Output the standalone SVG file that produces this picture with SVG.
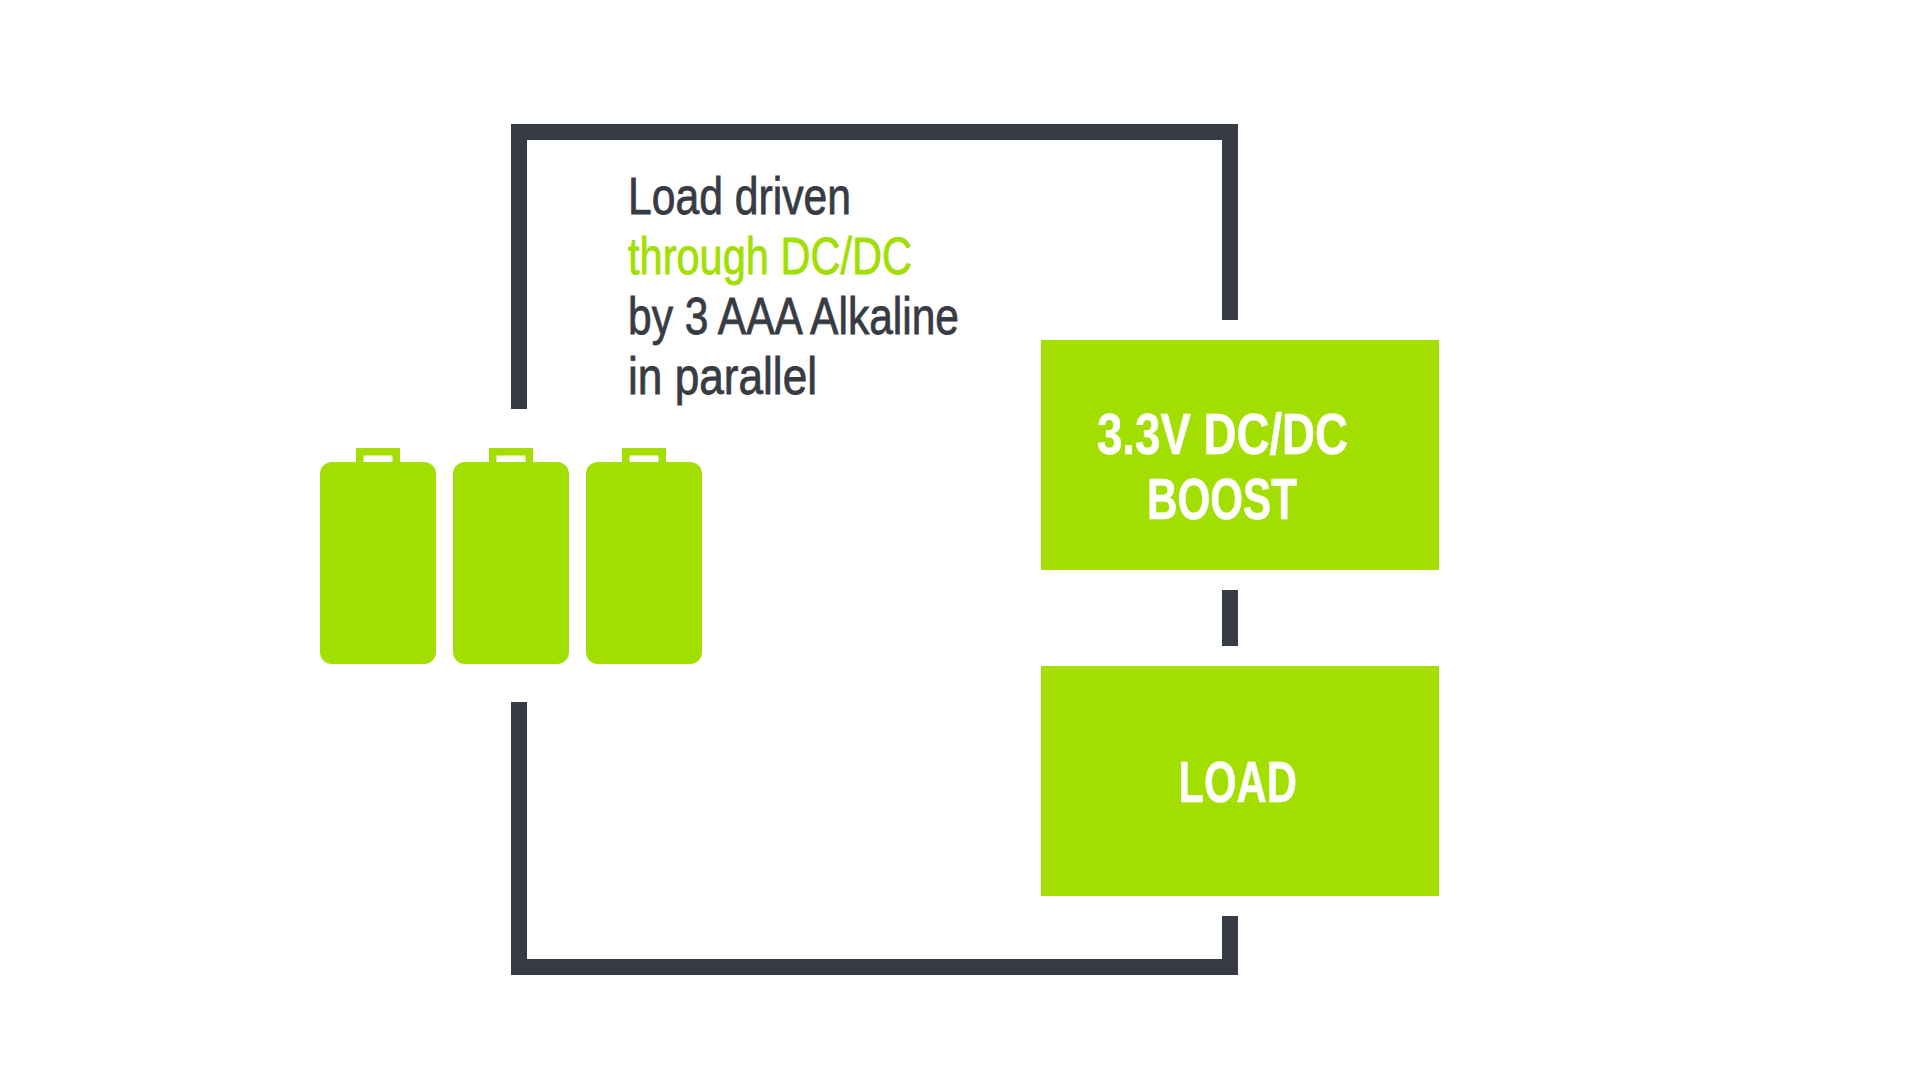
<svg xmlns="http://www.w3.org/2000/svg" width="1920" height="1080" viewBox="0 0 1920 1080">
<style>
.wire{fill:none;stroke:#373b43;stroke-width:16}
.g{fill:#a2df00}
.cap{fill:none;stroke:#a2df00;stroke-width:7.5}
.t{font-family:"Liberation Sans",Arial,sans-serif;font-size:52px;fill:#373b43;stroke:#373b43;stroke-width:.8px}
.tg{fill:#a2df00;stroke:#a2df00}
.b{font-family:"Liberation Sans",Arial,sans-serif;font-size:58px;font-weight:bold;fill:#fff;stroke:#fff;stroke-width:.6px}
</style>
<rect width="1920" height="1080" fill="#fff"/>
<g id="connectors">
<path class="wire" d="M519 409V132H1230V320"/>
<path class="wire" d="M1230 590V646"/>
<path class="wire" d="M519 702V967H1230V916"/>
</g>
<g id="battery1"><rect class="g" x="320" y="462" width="116" height="202" rx="12"/><path class="cap" d="M359.750 462V451.750H396.250V462"/></g>
<g id="battery2"><rect class="g" x="453" y="462" width="116" height="202" rx="12"/><path class="cap" d="M492.750 462V451.750H529.250V462"/></g>
<g id="battery3"><rect class="g" x="586" y="462" width="116" height="202" rx="12"/><path class="cap" d="M625.750 462V451.750H662.250V462"/></g>
<g id="caption">
<text class="t" x="628" y="214" textLength="223" lengthAdjust="spacingAndGlyphs">Load driven</text>
<text class="t tg" x="628" y="274" textLength="284" lengthAdjust="spacingAndGlyphs">through DC/DC</text>
<text class="t" x="628" y="334" textLength="331" lengthAdjust="spacingAndGlyphs">by 3 AAA Alkaline</text>
<text class="t" x="628" y="394" textLength="189" lengthAdjust="spacingAndGlyphs">in parallel</text>
</g>
<g id="boost">
<rect class="g" x="1041" y="340" width="398" height="230"/>
<text class="b" x="1097" y="453.500" textLength="251" lengthAdjust="spacingAndGlyphs">3.3V DC/DC</text>
<text class="b" x="1147" y="519" textLength="150" lengthAdjust="spacingAndGlyphs">BOOST</text>
</g>
<g id="load">
<rect class="g" x="1041" y="666" width="398" height="230"/>
<text class="b" x="1178.500" y="801.500" textLength="118.500" lengthAdjust="spacingAndGlyphs">LOAD</text>
</g>
</svg>
